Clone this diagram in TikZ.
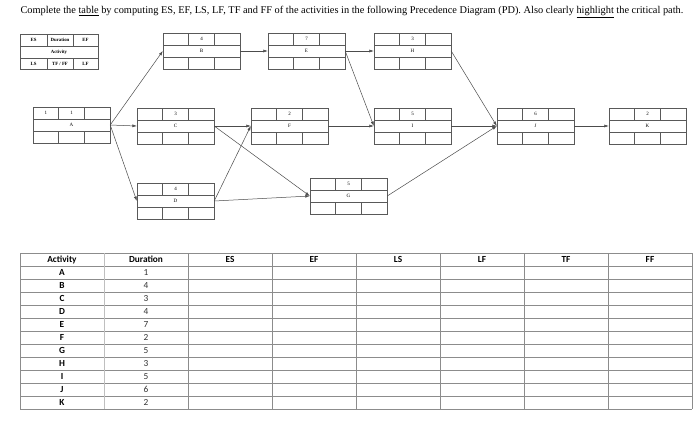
\documentclass[tikz,border=0pt]{standalone}
\usepackage{fontspec}
\setmainfont{Liberation Serif}
\newfontfamily\tabfont{Carlito}
\usetikzlibrary{arrows.meta}

\begin{document}
\begin{tikzpicture}[x=1pt,y=-1pt,
  box/.style={draw=black!65, line width=0.5pt},
  mid/.style={minimum width=77pt, minimum height=12pt, inner sep=0pt, font=\fontsize{5}{6}\selectfont},
  cell/.style={inner sep=0pt, font=\fontsize{5}{6}\selectfont},
  legtxt/.style={inner sep=0pt, font=\fontsize{4.8}{5}\selectfont\bfseries},
  link/.style={draw=black!70, line width=0.5pt, -{Latex[length=4.5pt,width=3pt]}},
  grid/.style={draw=black!45, line width=0.6pt},
  head/.style={inner sep=0pt, font=\fontsize{9.3}{10}\selectfont\tabfont\bfseries},
  txt/.style={inner sep=0pt, text=black!80, font=\fontsize{9.3}{10}\selectfont\tabfont}]

\useasboundingbox[fill=white] (0,0) rectangle (700,432);

\node[anchor=west, font=\fontsize{10.35}{12}\selectfont] (title) at (17,12)
  {Complete the \underline{table} by computing ES, EF, LS, LF, TF and FF of the activities in the following Precedence Diagram (PD). Also clearly \underline{highlight} the critical path.};

% legend
\draw[box] (20,34) rectangle (98,69);
\draw[box] (20,46) -- (98,46) (20,58) -- (98,58);
\draw[box] (47,34) -- (47,46) (73,34) -- (73,46) (47,58) -- (47,69) (73,58) -- (73,69);
\node[legtxt] (lgES) at (33.5,40) {ES};
\node[legtxt] (lgDur) at (60,40) {Duration};
\node[legtxt] (lgEF) at (85.5,40) {EF};
\node[legtxt] (lgAct) at (59,52) {Activity};
\node[legtxt] (lgLS) at (33.5,63.5) {LS};
\node[legtxt] (lgTF) at (60,63.5) {TF / FF};
\node[legtxt] (lgLF) at (85.5,63.5) {LF};

% activity boxes: name / left / top / duration
\foreach \n/\x/\y/\d in {A/33/107/1, B/163/33/4, C/137/108/3, D/137/183/4,
    E/268/33/7, F/251/108/2, G/310/178/5, H/374/33/3, I/374/108/5,
    J/497/108/6, K/609/108/2} {
  \node[mid] (\n) at (\x+38.5,\y+18) {\n};
  \draw[box] (\x,\y) rectangle (\x+77,\y+36);
  \draw[box] (\x,\y+12) -- (\x+77,\y+12) (\x,\y+24) -- (\x+77,\y+24);
  \draw[box] (\x+25.7,\y) -- (\x+25.7,\y+12) (\x+51.3,\y) -- (\x+51.3,\y+12);
  \draw[box] (\x+25.7,\y+24) -- (\x+25.7,\y+36) (\x+51.3,\y+24) -- (\x+51.3,\y+36);
  \node[cell] (dur\n) at (\x+38.5,\y+6) {\d};
}
\node[cell] (esA) at (45.8,113) {1};

% links
\draw[link] (A.east) -- (B.west);
\draw[link] (A.east) -- (C.west);
\draw[link] (A.east) -- (D.west);
\draw[link] (B.east) -- (E.west);
\draw[link] (E.east) -- (H.west);
\draw[link] (E.east) -- (I.west);
\draw[link] (C.east) -- (F.west);
\draw[link] (C.east) -- (G.west);
\draw[link] (D.east) -- (F.west);
\draw[link] (D.east) -- (G.west);
\draw[link] (F.east) -- (I.west);
\draw[link] (H.east) -- (J.west);
\draw[link] (I.east) -- (J.west);
\draw[link] (G.east) -- (J.west);
\draw[link] (J.east) -- (K.west);

% table
\foreach \r in {0,...,11}
  \draw[grid] (20,266+13*\r) -- (692,266+13*\r);
\draw[grid] (20,253) -- (692,253);
\foreach \c in {20,188,272,356,440,524,608,692}
  \draw[grid] (\c,253) -- (\c,409);
\draw[draw=black!25, line width=0.5pt] (104,253) -- (104,409);

\foreach \h/\c in {Activity/62, Duration/146, ES/230, EF/314, LS/398, LF/482, TF/566, FF/650}
  \node[head] (hd\h) at (\c,259.5) {\h};
\foreach \a/\d [count=\i] in {A/1, B/4, C/3, D/4, E/7, F/2, G/5, H/3, I/5, J/6, K/2} {
  \node[head] (row\a) at (62,259.5+13*\i) {\a};
  \node[txt] (rowdur\a) at (146,259.5+13*\i) {\d};
}
\end{tikzpicture}
\end{document}
